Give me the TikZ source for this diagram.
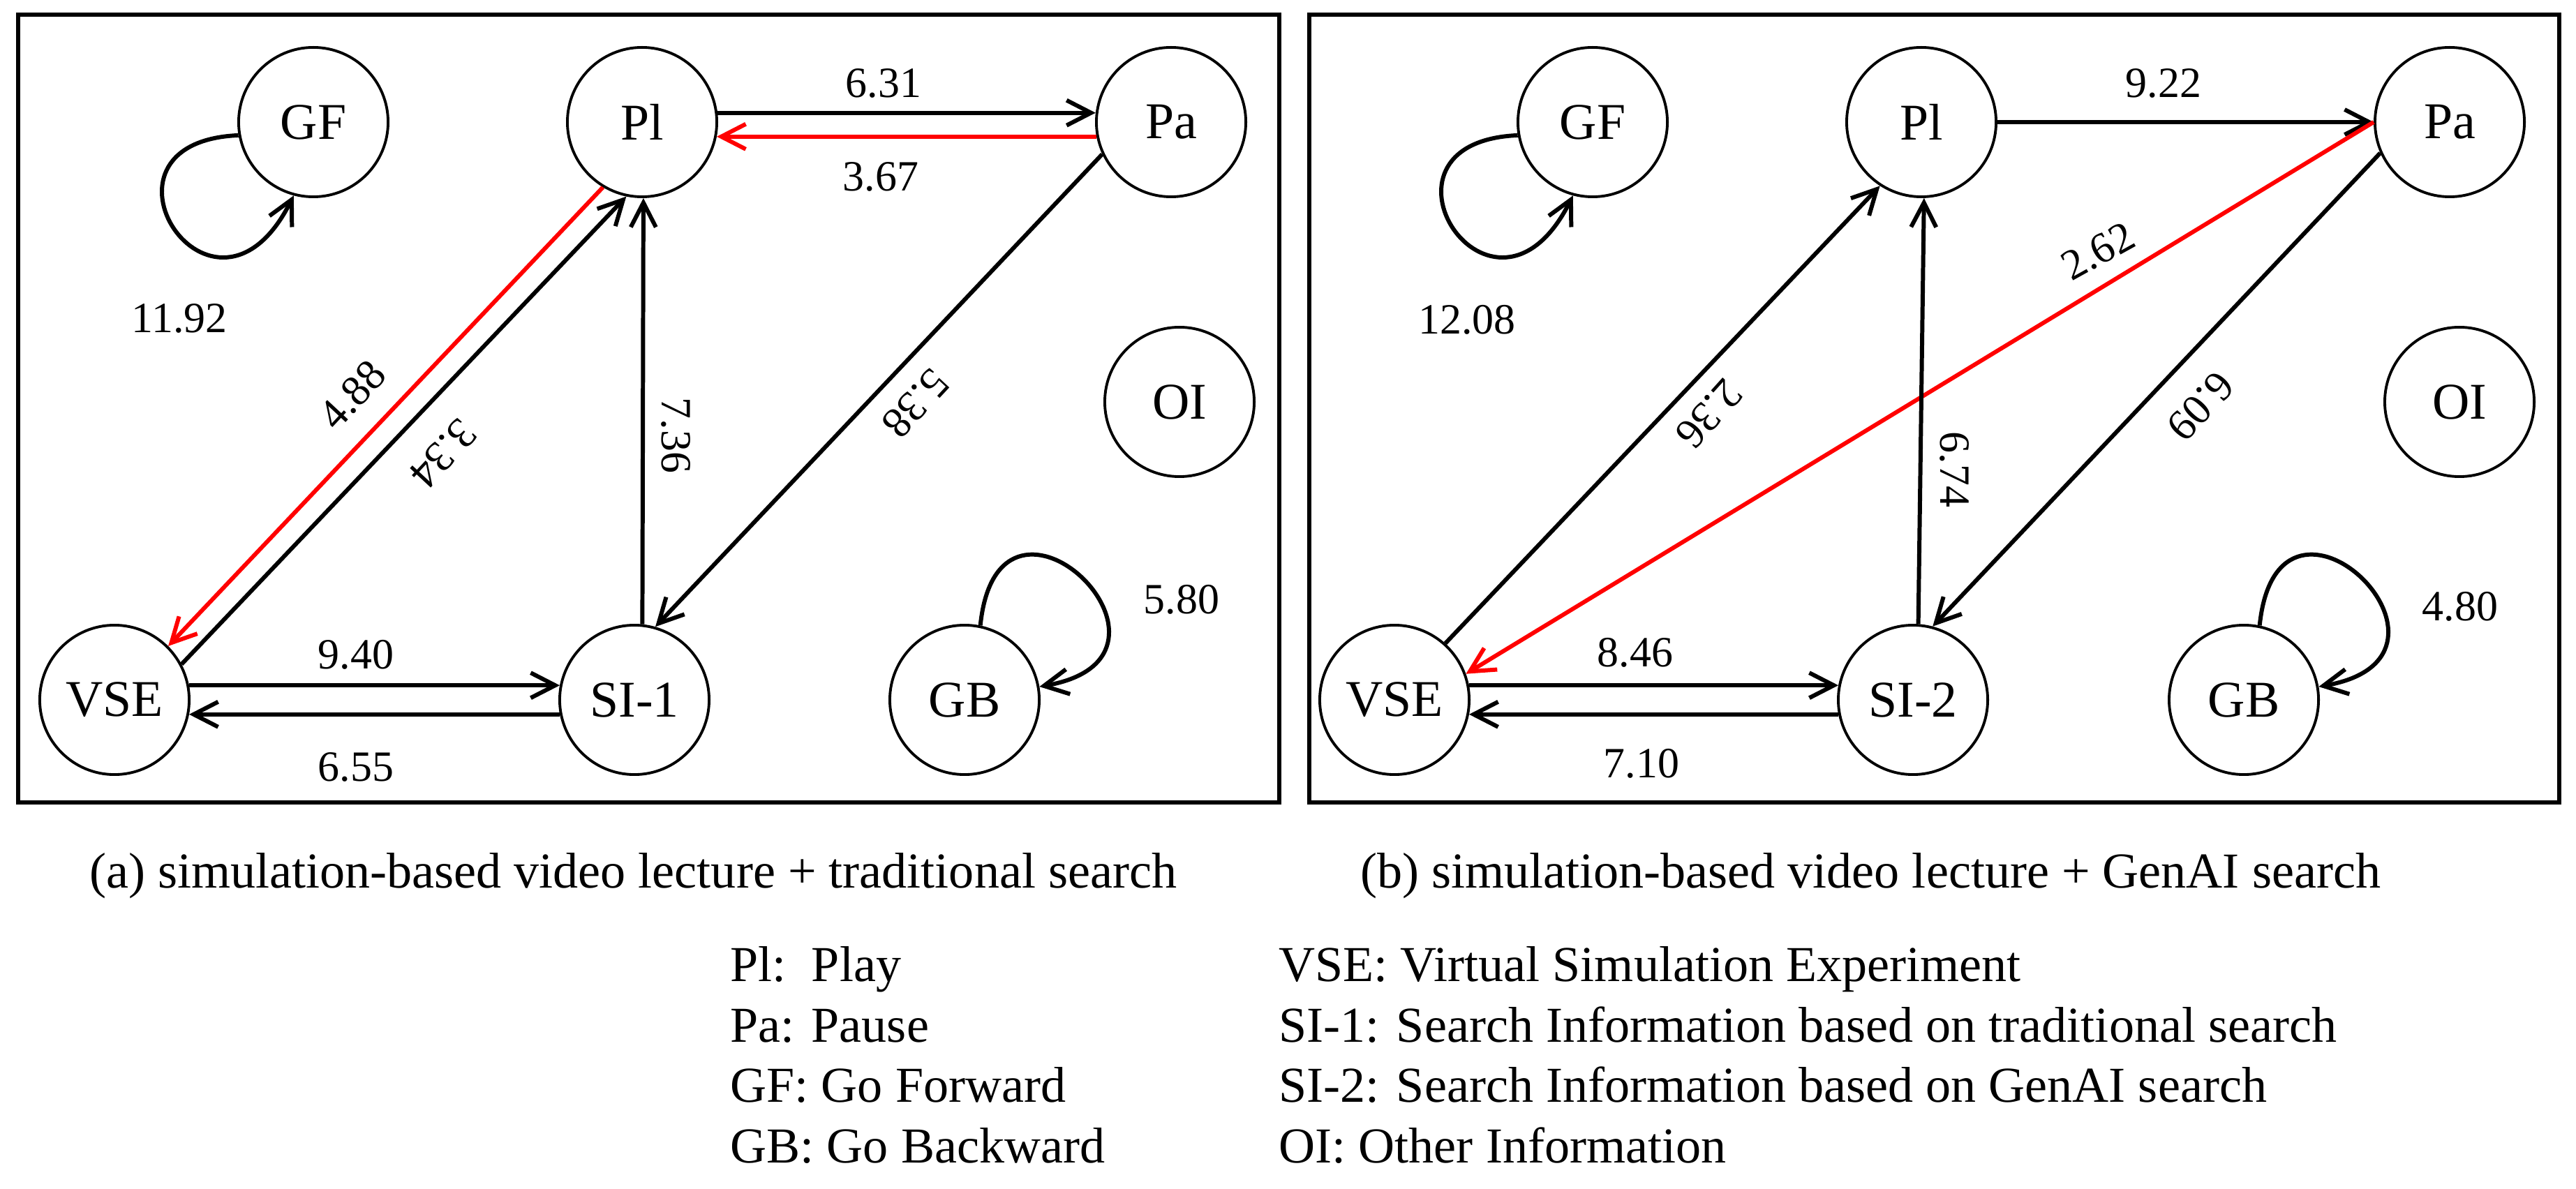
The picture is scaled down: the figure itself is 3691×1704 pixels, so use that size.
\documentclass[tikz,border=0pt]{standalone}
\usepackage{fontspec}
\setmainfont{Liberation Serif}
\usetikzlibrary{arrows.meta}
\tikzset{
    state/.style={circle, draw, line width=1.1pt, minimum size=2.14cm, inner sep=0pt, font=\fontsize{21}{24}\selectfont},
    trans/.style={line width=1.7pt, -{Straight Barb[length=3.5mm,width=3.6mm]}},
    hot/.style={trans, red},
    num/.style={font=\fontsize{17.6}{20}\selectfont, inner sep=0pt},
    txt/.style={font=\fontsize{20.5}{23}\selectfont, inner sep=0pt, anchor=base west},
    panel/.style={line width=1.7pt}
}
\newcommand{\fwdloop}[1]{ % loop beside Go Forward
    \draw[trans] (#1.190) .. controls +(-235,10) and +(-115,230) .. (#1.255);
}
\newcommand{\bwdloop}[1]{ % loop beside Go Backward
    \draw[trans] (#1.78) .. controls +(26,-255) and +(248,-43) .. (#1.10);
}
\begin{document}
\begin{tikzpicture}[x=0.01cm, y=-0.01cm]
    \useasboundingbox (0,0) rectangle (3691,1704);

    % Panel (a)
    \draw[panel] (26,21) rectangle (1833,1150);
    \node[state] (GFa) at (449,175) {GF};
    \node[state] (Pla) at (920,175) {Pl};
    \node[state] (Paa) at (1678,175) {Pa};
    \node[state] (OIa) at (1690,576) {OI};
    \node[state] (VSEa) at (164,1003) {VSE};
    \node[state] (SIa) at (909,1003) {SI-1};
    \node[state] (GBa) at (1382,1003) {GB};

    \draw[trans] (Pla.7) -- (Paa.173);
    \draw[hot] (Paa.191) -- (Pla.349);
    \draw[hot] (Pla.239) -- (VSEa.45);
    \draw[trans] (VSEa.28) -- (Pla.258);
    \draw[trans] (SIa.84) -- (Pla.271);
    \draw[trans] (Paa.205) -- (SIa.74);
    \draw[trans] (VSEa.11) -- (SIa.169);
    \draw[trans] (SIa.191) -- (VSEa.349);
    \fwdloop{GFa}
    \bwdloop{GBa}

    \node[num] at (1266,119) {6.31};
    \node[num] at (1262,253) {3.67};
    \node[num, rotate=47] at (505,566) {4.88};
    \node[num, rotate=-133] at (635,650) {3.34};
    \node[num, rotate=-90] at (969,624) {7.36};
    \node[num, rotate=-133] at (1312,578) {5.38};
    \node[num] at (510,938) {9.40};
    \node[num] at (510,1099) {6.55};
    \node[num] at (257,456) {11.92};
    \node[num] at (1693,859) {5.80};

    % Panel (b)
    \draw[panel] (1876,21) rectangle (3667,1150);
    \node[state] (GFb) at (2282,175) {GF};
    \node[state] (Plb) at (2753,175) {Pl};
    \node[state] (Pab) at (3510,175) {Pa};
    \node[state] (OIb) at (3524,576) {OI};
    \node[state] (VSEb) at (1998,1003) {VSE};
    \node[state] (SIb) at (2741,1003) {SI-2};
    \node[state] (GBb) at (3215,1003) {GB};

    \draw[trans] (Plb) -- (Pab);
    \draw[trans] (VSEb.48) -- (Plb.237);
    \draw[hot] (Pab.180) -- (VSEb.20);
    \draw[trans] (SIb.86) -- (Plb.272);
    \draw[trans] (Pab.204) -- (SIb.75);
    \draw[trans] (VSEb.11) -- (SIb.169);
    \draw[trans] (SIb.191) -- (VSEb.349);
    \fwdloop{GFb}
    \bwdloop{GBb}

    \node[num] at (3100,119) {9.22};
    \node[num, rotate=-132] at (2449,593) {2.36};
    \node[num, rotate=29] at (3006,360) {2.62};
    \node[num, rotate=-90] at (2801,673) {6.74};
    \node[num, rotate=-133] at (3153,582) {6.09};
    \node[num] at (2343,935) {8.46};
    \node[num] at (2352,1094) {7.10};
    \node[num] at (2102,458) {12.08};
    \node[num] at (3525,869) {4.80};

    % Captions and key
    \node[txt, anchor=base] (capa) at (907,1272) {(a) simulation-based video lecture + traditional search};
    \node[txt, anchor=base] (capb) at (2680,1272) {(b) simulation-based video lecture + GenAI search};
    \node[txt] at (1046,1406) {Pl:\ \ Play};
    \node[txt] at (1046,1493) {Pa: Pause};
    \node[txt] at (1046,1579) {GF: Go Forward};
    \node[txt] at (1046,1666) {GB: Go Backward};
    \node[txt] at (1832,1406) {VSE: Virtual Simulation Experiment};
    \node[txt] at (1832,1493) {SI-1: Search Information based on traditional search};
    \node[txt] at (1832,1579) {SI-2: Search Information based on GenAI search};
    \node[txt] at (1832,1666) {OI: Other Information};
\end{tikzpicture}
\end{document}
